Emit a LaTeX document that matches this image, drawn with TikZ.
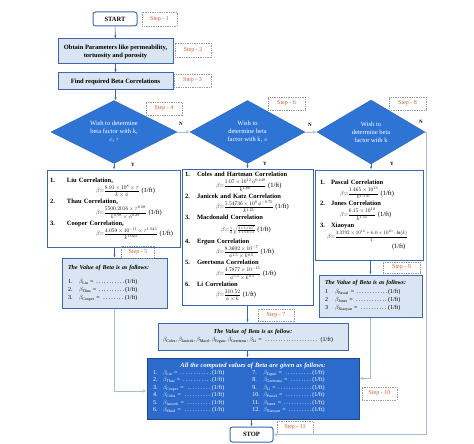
\documentclass[tikz,border=0pt]{standalone}
\usepackage{amsmath}
\usepackage{fontspec}
\setmainfont{Liberation Serif}
\usetikzlibrary{shapes.geometric,arrows.meta}

\definecolor{decblue}{HTML}{2E74D4}
\definecolor{allblue}{HTML}{2C6BCB}
\definecolor{edgeblue}{HTML}{3A67AE}
\definecolor{deepline}{HTML}{1F4A8A}
\definecolor{paleblue}{HTML}{DAE5F3}
\definecolor{softline}{HTML}{A9BCDC}
\definecolor{steporange}{HTML}{D05A2E}

% numbered correlation title, formula and beta value line
\newcommand{\corr}[3][24pt]{\textbf{\makebox[#1][l]{#2}#3}}
\newcommand{\fml}[2]{$\beta{=}${\fontsize{11}{11}\selectfont$\dfrac{#1}{#2}$}}
\newcommand{\bval}[4]{\makebox[#1][l]{#2}\makebox[#4][l]{$\beta_{\mathrm{#3}}$ = \dotfill}(1/ft)}

\begin{document}
\begin{tikzpicture}[x=2pt,y=-2pt,
  every node/.style={inner sep=0pt,font=\fontsize{13}{16}\selectfont},
  sz/.style 2 args={minimum width=#1*2pt,minimum height=#2*2pt},
  term/.style={draw=edgeblue,line width=2pt,rounded corners=5pt,fill=white,font=\fontsize{13}{16}\selectfont\bfseries},
  proc/.style={draw=edgeblue,line width=2pt,fill=paleblue,align=center,font=\fontsize{13}{16}\selectfont\bfseries},
  decide/.style={diamond,aspect=2,fill=decblue,draw=decblue!75!black,line width=0.6pt,text=white,align=center},
  corrbox/.style={draw=edgeblue,line width=2pt,fill=white,align=left,inner xsep=6pt,font=\fontsize{13}{21.5}\selectfont},
  resbox/.style={draw=edgeblue,line width=2pt,fill=paleblue,align=left,inner xsep=12pt,font=\fontsize{12}{16}\selectfont},
  stepbox/.style={draw=gray!80,dash pattern=on 2pt off 1.5pt,line width=1pt,text=steporange,font=\fontsize{12}{14}\selectfont},
  yn/.style={font=\fontsize{10}{12}\selectfont\bfseries},
  conn/.style={draw=edgeblue,line width=1.2pt,-{Latex[length=6pt,width=5pt]}},
  soft/.style={draw=softline,line width=1.2pt,-{Latex[open,length=7pt,width=7pt]}}]
\useasboundingbox (0,0) rectangle (474,444);

% Start and parameters
\node[term,sz={44}{14}] (start) at (115,19) {START};
\node[proc,sz={115}{25}] (obtain) at (115.5,51.5) {Obtain Parameters like permeability,\\tortuosity and porosity};
\node[proc,sz={115}{17}] (find) at (115.5,81.5) {Find required Beta Correlations};

% Decisions
\node[decide,sz={126}{63}] (d1) at (114,132) {Wish to determine\\beta factor with k,\\$\phi$, $\tau$};
\node[decide,sz={115}{63}] (d2) at (247.5,132) {Wish to\\determine beta\\factor with k, $\phi$};
\node[decide,sz={108}{64}] (d3) at (371,132) {Wish to\\determine beta\\factor with k};

\node[yn] (n1) at (181,124) {N};
\node[yn] (n2) at (310,125) {N};
\node[yn] (n3) at (421,122) {N};
\node[yn] (y1) at (133,165) {Y};
\node[yn] (y2) at (265,164) {Y};
\node[yn] (y3) at (392,164) {Y};

% Correlation lists
\node[corrbox,sz={133}{77},text width=254pt] (box1) at (113.5,208.5) {%
\corr[34pt]{1.}{Liu Correlation,}\\
\hspace*{92pt}\fml{8.91\times10^{8}\times\tau}{k\times\phi} (1/ft)\\
\corr[34pt]{2.}{Thau Correlation,}\\
\hspace*{92pt}\fml{5500.2016\times\tau^{0.08}}{k^{0.98}\times\phi^{0.29}} (1/ft)\\
\corr[34pt]{3.}{Cooper Correlation,}\\
\hspace*{92pt}\fml{4.059\times10^{-11}\times\tau^{1.943}}{k^{1.023}} (1/ft)};

\node[corrbox,sz={131}{136},text width=250pt] (box2) at (247.5,237) {%
\corr{1.}{Coles and Hartman Correlation}\\
\hspace*{62pt}\fml{1.07\times10^{12}\,\phi^{0.449}}{k^{1.88}} (1/ft)\\
\corr{2.}{Janicek and Katz Correlation}\\
\hspace*{62pt}\fml{5.54736\times10^{9}\,\phi^{-0.75}}{k^{1.25}} (1/ft)\\
\corr{3.}{Macdonald Correlation}\\[2pt]
\hspace*{72pt}$\beta{=}${\fontsize{10}{10}\selectfont$\tfrac{1}{\phi}\sqrt{\tfrac{2\times5\times10^{8}}{1.1\times k\times\phi}}$} (1/ft)\\[2pt]
\corr{4.}{Ergun Correlation}\\
\hspace*{62pt}\fml{8.3602\times10^{-7}}{\phi^{1.5}\times k^{0.5}} (1/ft)\\
\corr{5.}{Geertsma Correlation}\\
\hspace*{62pt}\fml{4.7877\times10^{-15}}{\phi^{5.5}\times k^{0.5}} (1/ft)\\
\corr{6.}{Li Correlation}\\
\hspace*{62pt}\fml{310.52}{\phi\times k} (1/ft)};

\node[corrbox,inner xsep=10pt,sz={108}{90},text width=196pt] (box3) at (369,215) {%
\corr[22pt]{1.}{Pascal Correlation}\\
\hspace*{40pt}\fml{1.465\times10^{13}}{k^{1.176}} (1/ft)\\
\corr[22pt]{2.}{Jones Correlation}\\
\hspace*{40pt}\fml{6.15\times10^{10}}{k^{1.55}} (1/ft)\\
\corr[22pt]{3.}{Xiaoyan}\\
\hspace*{14pt}$\beta{=}${\fontsize{10}{10}\selectfont$\dfrac{3.3792\times10^{10}+6.0\times10^{10}\cdot\ln(k)}{1}$}\\
\hspace*{144pt}(1/ft)};

% Beta values
\node[resbox,sz={105}{50},text width=186pt] (res1) at (114.5,283) {%
\textbf{\textit{The Value of Beta is as follows:}}\\[12pt]
\bval{22pt}{1.}{Liu}{92pt}\\
\bval{22pt}{2.}{Thau}{92pt}\\
\bval{22pt}{3.}{Cooper}{92pt}};

\node[resbox,inner xsep=10pt,sz={190}{27},text width=360pt,font=\fontsize{12}{15}\selectfont] (res2) at (253,336.5) {%
\makebox[360pt]{\textbf{\textit{The Value of Beta is as follow:}}}\\
\makebox[340pt][l]{$\beta_{\mathrm{Coles}}, \beta_{\mathrm{Janicek}}, \beta_{\mathrm{Macd}}, \beta_{\mathrm{Ergun}}, \beta_{\mathrm{Geertsma}}, \beta_{\mathrm{Li}}$ = \dotfill\ (1/ft)}};

\node[resbox,sz={103}{42},text width=182pt] (res3) at (370.5,296) {%
\textbf{\textit{The Value of Beta is as follows:}}\\[2pt]
\bval{20pt}{1}{Pascal}{106pt}\\
\bval{20pt}{2}{Jones}{106pt}\\
\bval{20pt}{3}{Xiaoyan}{106pt}};

\node[resbox,fill=allblue,draw=deepline,text=white,sz={212}{61},text width=400pt,font=\fontsize{12}{15}\selectfont] (allbox) at (253,388.5) {%
\makebox[400pt]{\fontsize{13}{15}\selectfont\textbf{\textit{All the computed values of Beta are given as follows:}}}\\
\begin{tabular}{@{}l@{\hspace{56pt}}l@{}}
\bval{20pt}{1.}{Liu}{98pt} & \bval{22pt}{7.}{Ergun}{98pt}\\
\bval{20pt}{2.}{Thau}{98pt} & \bval{22pt}{8.}{Geertsma}{98pt}\\
\bval{20pt}{3.}{Cooper}{98pt} & \bval{22pt}{9.}{Li}{98pt}\\
\bval{20pt}{4.}{Coles}{98pt} & \bval{22pt}{10.}{Pascal}{98pt}\\
\bval{20pt}{5.}{Janicek}{98pt} & \bval{22pt}{11.}{Jones}{98pt}\\
\bval{20pt}{6.}{Macd}{98pt} & \bval{22pt}{12.}{Xiaoyan}{98pt}
\end{tabular}};

\node[term,sz={43}{15}] (stop) at (251.5,434.5) {STOP};

% Steps
\node[stepbox,sz={35}{14}] (step1) at (159.5,19) {Step - 1};
\node[stepbox,sz={36}{14}] (step2) at (193,50) {Step - 2};
\node[stepbox,sz={37}{13}] (step3) at (192.5,80.5) {Step - 3};
\node[stepbox,sz={36}{13}] (step4) at (164,108.5) {Step - 4};
\node[stepbox,sz={33}{12}] (step5) at (138,252) {Step - 5};
\node[stepbox,sz={37}{13}] (step6) at (286.5,103.5) {Step - 6};
\node[stepbox,sz={36}{12}] (step7) at (276,315) {Step - 7};
\node[stepbox,sz={37}{13}] (step8) at (407.5,103.5) {Step - 8};
\node[stepbox,sz={37}{11}] (step9) at (401.5,267.5) {Step - 9};
\node[stepbox,sz={35}{13}] (step10) at (379.5,393.5) {Step - 10};
\node[stepbox,sz={36}{13}] (step11) at (295,427.5) {Step - 11};

% Connectors
\draw[conn] (start) -- (obtain);
\draw[conn] (obtain) -- (find);
\draw[conn] (find.south) -- (find.south |- d1.north);
\draw[soft] (d1.east) -- (d2.west);
\draw[soft] (d2.east) -- (d3.west);
\draw[conn] (d1.south) -- (d1.south |- box1.north);
\draw[conn] (d2.south) -- (box2.north);
\draw[conn] (d3.south) -- (d3.south |- box3.north);
\draw[conn] (res1.north |- box1.south) -- (res1.north);
\draw[conn] (box2.south) -- (box2.south |- res2.north);
\draw[conn] (res3.north |- box3.south) -- (res3.north);
\draw[soft] (res1.south) |- ([yshift=-5pt]allbox.west);
\draw[conn] (box2.south |- res2.south) -- (box2.south |- allbox.north);
\draw[soft] (res3.south) |- ([yshift=-42pt]allbox.north east);
\draw[conn] (stop.north |- allbox.south) -- (stop.north);
\draw[soft] (d3.east) -- ++(1,0) |- (stop.east);
\end{tikzpicture}
\end{document}
